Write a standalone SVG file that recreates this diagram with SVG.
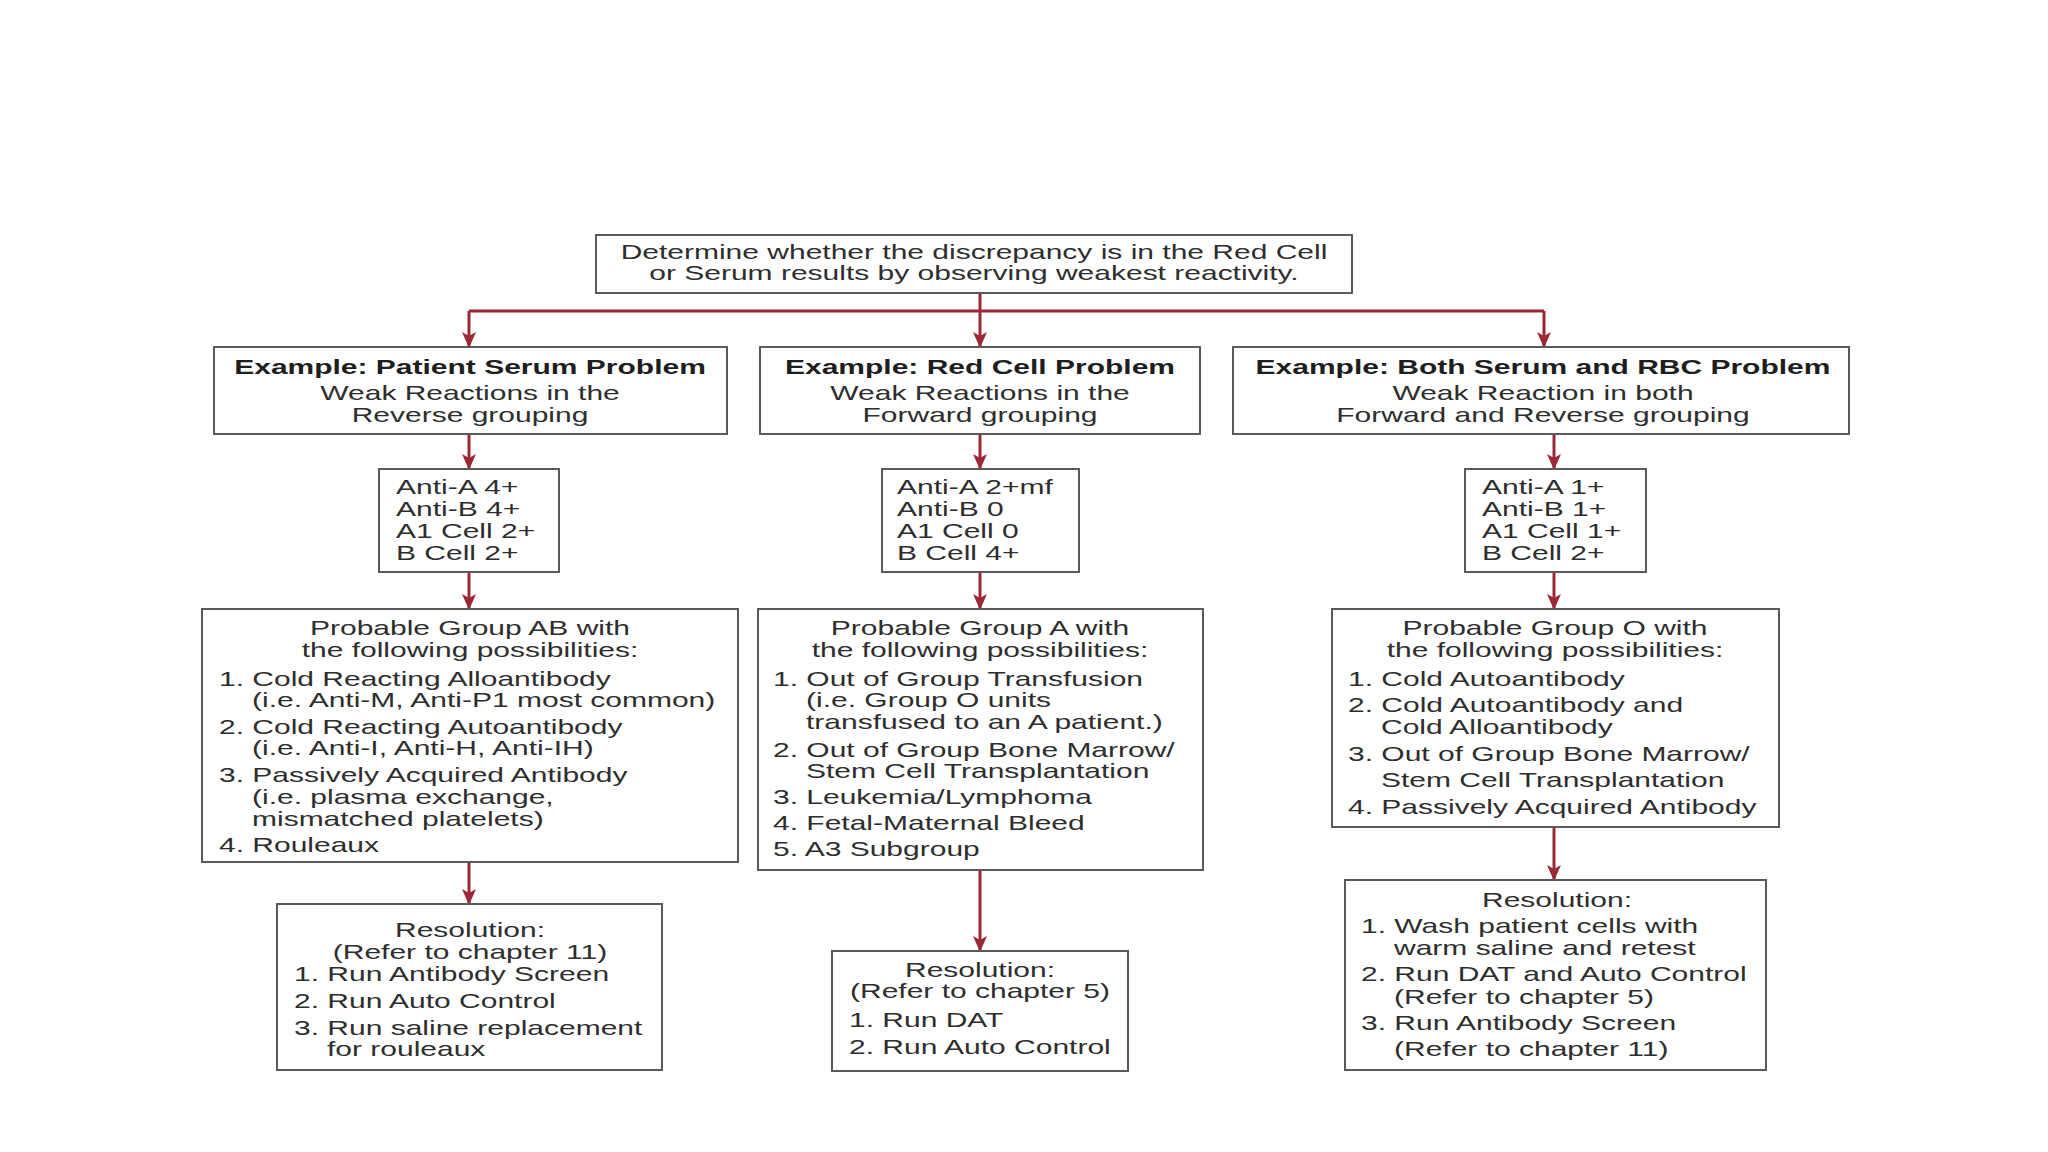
<svg xmlns="http://www.w3.org/2000/svg" width="2048" height="1152" viewBox="0 0 2048 1152">
<defs>
<style>
.box{fill:#ffffff;stroke:#5a5a5a;stroke-width:2}
.t{font-family:"Liberation Sans",Arial,sans-serif;font-size:20px;fill:#2e2e2e}
.b{font-weight:bold;fill:#1e1e1e}
.c{text-anchor:middle}
.conn line,.conn path{stroke:#9b2834;stroke-width:3;fill:none}
</style>
<marker id="ah" markerUnits="userSpaceOnUse" markerWidth="16" markerHeight="14" refX="15" refY="7" orient="auto">
<path d="M0,0 L16,7 L0,14 L4,7 z" fill="#9b2834"/>
</marker>
</defs>
<rect width="2048" height="1152" fill="#ffffff"/>

<g id="connectors" class="conn">
<line x1="980" y1="293" x2="980" y2="347" marker-end="url(#ah)"/>
<line x1="469" y1="311" x2="1544" y2="311"/>
<line x1="469" y1="311" x2="469" y2="347" marker-end="url(#ah)"/>
<line x1="1544" y1="311" x2="1544" y2="347" marker-end="url(#ah)"/>
<line x1="469" y1="434" x2="469" y2="469" marker-end="url(#ah)"/>
<line x1="980" y1="434" x2="980" y2="469" marker-end="url(#ah)"/>
<line x1="1554" y1="434" x2="1554" y2="469" marker-end="url(#ah)"/>
<line x1="469" y1="572" x2="469" y2="609" marker-end="url(#ah)"/>
<line x1="980" y1="572" x2="980" y2="609" marker-end="url(#ah)"/>
<line x1="1554" y1="572" x2="1554" y2="609" marker-end="url(#ah)"/>
<line x1="469" y1="862" x2="469" y2="904" marker-end="url(#ah)"/>
<line x1="980" y1="870" x2="980" y2="951" marker-end="url(#ah)"/>
<line x1="1554" y1="827" x2="1554" y2="880" marker-end="url(#ah)"/>
</g>

<g id="top">
<rect class="box" x="596" y="235" width="756" height="58"/>
<text class="t c" transform="translate(974 259) scale(1.5 1)">Determine whether the discrepancy is in the Red Cell</text>
<text class="t c" transform="translate(974 280) scale(1.5 1)">or Serum results by observing weakest reactivity.</text>
</g>

<g id="serum-problem">
<rect class="box" x="214" y="347" width="513" height="87"/>
<text class="t b c" transform="translate(470 374) scale(1.5 1)">Example: Patient Serum Problem</text>
<text class="t c" transform="translate(470 400) scale(1.5 1)">Weak Reactions in the</text>
<text class="t c" transform="translate(470 422) scale(1.5 1)">Reverse grouping</text>
</g>

<g id="redcell-problem">
<rect class="box" x="760" y="347" width="440" height="87"/>
<text class="t b c" transform="translate(980 374) scale(1.5 1)">Example: Red Cell Problem</text>
<text class="t c" transform="translate(980 400) scale(1.5 1)">Weak Reactions in the</text>
<text class="t c" transform="translate(980 422) scale(1.5 1)">Forward grouping</text>
</g>

<g id="both-problem">
<rect class="box" x="1233" y="347" width="616" height="87"/>
<text class="t b c" transform="translate(1543 374) scale(1.5 1)">Example: Both Serum and RBC Problem</text>
<text class="t c" transform="translate(1543 400) scale(1.5 1)">Weak Reaction in both</text>
<text class="t c" transform="translate(1543 422) scale(1.5 1)">Forward and Reverse grouping</text>
</g>

<g id="results-ab">
<rect class="box" x="379" y="469" width="180" height="103"/>
<text class="t" transform="translate(396 494) scale(1.5 1)">Anti-A 4+</text>
<text class="t" transform="translate(396 516) scale(1.5 1)">Anti-B 4+</text>
<text class="t" transform="translate(396 538) scale(1.5 1)">A1 Cell 2+</text>
<text class="t" transform="translate(396 560) scale(1.5 1)">B Cell 2+</text>
</g>

<g id="results-a">
<rect class="box" x="882" y="469" width="197" height="103"/>
<text class="t" transform="translate(897 494) scale(1.5 1)">Anti-A 2+mf</text>
<text class="t" transform="translate(897 516) scale(1.5 1)">Anti-B 0</text>
<text class="t" transform="translate(897 538) scale(1.5 1)">A1 Cell 0</text>
<text class="t" transform="translate(897 560) scale(1.5 1)">B Cell 4+</text>
</g>

<g id="results-o">
<rect class="box" x="1465" y="469" width="181" height="103"/>
<text class="t" transform="translate(1482 494) scale(1.5 1)">Anti-A 1+</text>
<text class="t" transform="translate(1482 516) scale(1.5 1)">Anti-B 1+</text>
<text class="t" transform="translate(1482 538) scale(1.5 1)">A1 Cell 1+</text>
<text class="t" transform="translate(1482 560) scale(1.5 1)">B Cell 2+</text>
</g>

<g id="group-ab">
<rect class="box" x="202" y="609" width="536" height="253"/>
<text class="t c" transform="translate(470 635) scale(1.5 1)">Probable Group AB with</text>
<text class="t c" transform="translate(470 657) scale(1.5 1)">the following possibilities:</text>
<text class="t" transform="translate(219 686) scale(1.5 1)">1. Cold Reacting Alloantibody</text>
<text class="t" transform="translate(252 707) scale(1.5 1)">(i.e. Anti-M, Anti-P1 most common)</text>
<text class="t" transform="translate(219 734) scale(1.5 1)">2. Cold Reacting Autoantibody</text>
<text class="t" transform="translate(252 755) scale(1.5 1)">(i.e. Anti-I, Anti-H, Anti-IH)</text>
<text class="t" transform="translate(219 782) scale(1.5 1)">3. Passively Acquired Antibody</text>
<text class="t" transform="translate(252 804) scale(1.5 1)">(i.e. plasma exchange,</text>
<text class="t" transform="translate(252 826) scale(1.5 1)">mismatched platelets)</text>
<text class="t" transform="translate(219 852) scale(1.5 1)">4. Rouleaux</text>
</g>

<g id="group-a">
<rect class="box" x="758" y="609" width="445" height="261"/>
<text class="t c" transform="translate(980 635) scale(1.5 1)">Probable Group A with</text>
<text class="t c" transform="translate(980 657) scale(1.5 1)">the following possibilities:</text>
<text class="t" transform="translate(773 686) scale(1.5 1)">1. Out of Group Transfusion</text>
<text class="t" transform="translate(806 707) scale(1.5 1)">(i.e. Group O units</text>
<text class="t" transform="translate(806 729) scale(1.5 1)">transfused to an A patient.)</text>
<text class="t" transform="translate(773 757) scale(1.5 1)">2. Out of Group Bone Marrow/</text>
<text class="t" transform="translate(806 778) scale(1.5 1)">Stem Cell Transplantation</text>
<text class="t" transform="translate(773 804) scale(1.5 1)">3. Leukemia/Lymphoma</text>
<text class="t" transform="translate(773 830) scale(1.5 1)">4. Fetal-Maternal Bleed</text>
<text class="t" transform="translate(773 856) scale(1.5 1)">5. A3 Subgroup</text>
</g>

<g id="group-o">
<rect class="box" x="1332" y="609" width="447" height="218"/>
<text class="t c" transform="translate(1555 635) scale(1.5 1)">Probable Group O with</text>
<text class="t c" transform="translate(1555 657) scale(1.5 1)">the following possibilities:</text>
<text class="t" transform="translate(1348 686) scale(1.5 1)">1. Cold Autoantibody</text>
<text class="t" transform="translate(1348 712) scale(1.5 1)">2. Cold Autoantibody and</text>
<text class="t" transform="translate(1381 734) scale(1.5 1)">Cold Alloantibody</text>
<text class="t" transform="translate(1348 761) scale(1.5 1)">3. Out of Group Bone Marrow/</text>
<text class="t" transform="translate(1381 787) scale(1.5 1)">Stem Cell Transplantation</text>
<text class="t" transform="translate(1348 814) scale(1.5 1)">4. Passively Acquired Antibody</text>
</g>

<g id="resolution-ab">
<rect class="box" x="277" y="904" width="385" height="166"/>
<text class="t c" transform="translate(470 937) scale(1.5 1)">Resolution:</text>
<text class="t c" transform="translate(470 959) scale(1.5 1)">(Refer to chapter 11)</text>
<text class="t" transform="translate(294 981) scale(1.5 1)">1. Run Antibody Screen</text>
<text class="t" transform="translate(294 1008) scale(1.5 1)">2. Run Auto Control</text>
<text class="t" transform="translate(294 1035) scale(1.5 1)">3. Run saline replacement</text>
<text class="t" transform="translate(327 1056) scale(1.5 1)">for rouleaux</text>
</g>

<g id="resolution-a">
<rect class="box" x="832" y="951" width="296" height="120"/>
<text class="t c" transform="translate(980 977) scale(1.5 1)">Resolution:</text>
<text class="t c" transform="translate(980 998) scale(1.5 1)">(Refer to chapter 5)</text>
<text class="t" transform="translate(849 1027) scale(1.5 1)">1. Run DAT</text>
<text class="t" transform="translate(849 1054) scale(1.5 1)">2. Run Auto Control</text>
</g>

<g id="resolution-o">
<rect class="box" x="1345" y="880" width="421" height="190"/>
<text class="t c" transform="translate(1557 907) scale(1.5 1)">Resolution:</text>
<text class="t" transform="translate(1361 933) scale(1.5 1)">1. Wash patient cells with</text>
<text class="t" transform="translate(1394 955) scale(1.5 1)">warm saline and retest</text>
<text class="t" transform="translate(1361 981) scale(1.5 1)">2. Run DAT and Auto Control</text>
<text class="t" transform="translate(1394 1004) scale(1.5 1)">(Refer to chapter 5)</text>
<text class="t" transform="translate(1361 1030) scale(1.5 1)">3. Run Antibody Screen</text>
<text class="t" transform="translate(1394 1056) scale(1.5 1)">(Refer to chapter 11)</text>
</g>
</svg>
